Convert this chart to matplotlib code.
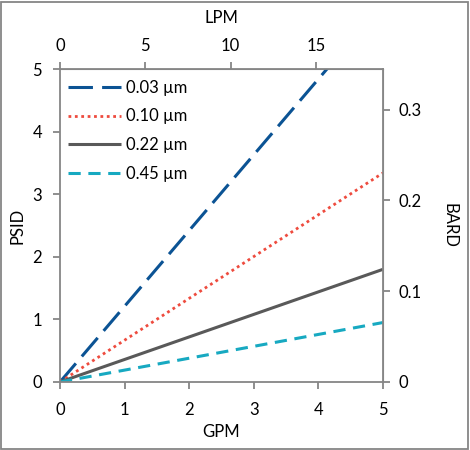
import matplotlib
matplotlib.use("Agg")
import matplotlib.pyplot as plt
from matplotlib.patches import Rectangle

plt.rcParams['font.family'] = ['Lato', 'DejaVu Sans']
plt.rcParams['font.size'] = 12

gpm = [0, 5]
labels = ["0.03 \u00b5m", "0.10 \u00b5m", "0.22 \u00b5m", "0.45 \u00b5m"]
psid_003 = [0, 6.05]
psid_010 = [0, 3.34]
psid_022 = [0, 1.80]
psid_045 = [0, 0.95]
series = [psid_003, psid_010, psid_022, psid_045]
x_ticks = [0, 1, 2, 3, 4, 5]
y_ticks = [0, 1, 2, 3, 4, 5]
lpm_ticks = [0, 5, 10, 15]
bard_ticks = [0, 0.1, 0.2, 0.3]

colors = ["#0B5394", "#EE4B3E", "#595959", "#17A9C1"]
styles = [dict(lw=2.2, dashes=(8, 3)),
          dict(lw=2.0, dashes=(1, 1.3)),
          dict(lw=2.2),
          dict(lw=2.2, dashes=(4, 2.5))]

fig = plt.figure(figsize=(4.7, 4.5), dpi=100)
ax = fig.add_axes([60/470, 1-382/450, 323/470, 313/450])
for s, lab, c, st in zip(series, labels, colors, styles):
    ax.plot(gpm, s, color=c, label=lab, solid_capstyle='butt', dash_capstyle='butt', **st)

ax.set_xlim(0, 5)
ax.set_ylim(0, 5)
ax.set_xticks(x_ticks)
ax.set_yticks(y_ticks)
ax.set_xlabel("GPM", labelpad=4)
ax.set_ylabel("PSID", labelpad=5)

gray = "#868686"
for sp in ax.spines.values():
    sp.set_color(gray)
    sp.set_linewidth(1.3)
ax.tick_params(axis='x', color=gray, length=5, width=1.3, direction='out', pad=9.5)
ax.tick_params(axis='y', color=gray, length=5, width=1.3, direction='out', pad=8)

top = ax.secondary_xaxis('top', functions=(lambda g: g*3.78541, lambda l: l/3.78541))
top.set_xticks(lpm_ticks)
top.set_xlabel("LPM", labelpad=10.5)
top.tick_params(color=gray, length=5, width=1.3, direction='out', pad=5.8)
top.spines['top'].set_color(gray)

right = ax.secondary_yaxis('right', functions=(lambda p: p*0.0689476, lambda b: b/0.0689476))
right.set_yticks(bard_ticks)
right.set_yticklabels(["0", "0.1", "0.2", "0.3"])
right.set_ylabel("BARD", rotation=270, labelpad=26)
right.tick_params(color=gray, length=5, width=1.3, direction='out', pad=6)
right.spines['right'].set_color(gray)

ax.legend(loc='upper left', bbox_to_anchor=(0.025, 0.966), frameon=False,
          borderpad=0, borderaxespad=0, handlelength=3.2, handletextpad=0.3,
          labelspacing=0.77)

fig.patches.append(Rectangle((1/470, 1/450), 467/470, 447/450, transform=fig.transFigure,
                             fill=False, edgecolor=gray, lw=1.3))
fig.savefig("out.png", dpi=100)
